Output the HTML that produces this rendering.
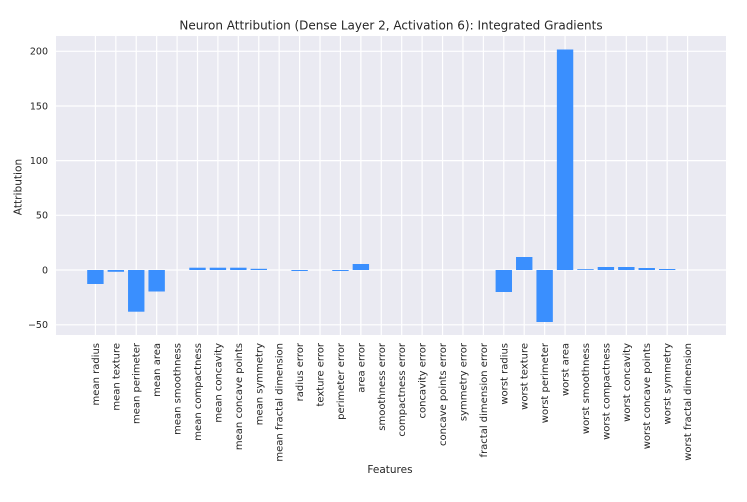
<!DOCTYPE html>
<html><head><meta charset="utf-8"><style>
html,body{margin:0;padding:0;background:#fff;}
svg{display:block;font-family:"DejaVu Sans","Liberation Sans",sans-serif;}
</style></head><body>
<svg width="747" height="502" viewBox="0 0 747 502" xmlns="http://www.w3.org/2000/svg">
<rect x="0" y="0" width="747" height="502" fill="#fff"/>
<rect x="56" y="36" width="670" height="299" fill="#eaeaf2"/>
<g stroke="#fff" stroke-width="1.2">
<line x1="56" x2="726" y1="51.3" y2="51.3"/>
<line x1="56" x2="726" y1="106" y2="106"/>
<line x1="56" x2="726" y1="160.6" y2="160.6"/>
<line x1="56" x2="726" y1="215.3" y2="215.3"/>
<line x1="56" x2="726" y1="270" y2="270"/>
<line x1="56" x2="726" y1="324.8" y2="324.8"/>
<line x1="95.4" x2="95.4" y1="36" y2="335"/>
<line x1="115.82" x2="115.82" y1="36" y2="335"/>
<line x1="136.24" x2="136.24" y1="36" y2="335"/>
<line x1="156.66" x2="156.66" y1="36" y2="335"/>
<line x1="177.08" x2="177.08" y1="36" y2="335"/>
<line x1="197.5" x2="197.5" y1="36" y2="335"/>
<line x1="217.92" x2="217.92" y1="36" y2="335"/>
<line x1="238.34" x2="238.34" y1="36" y2="335"/>
<line x1="258.76" x2="258.76" y1="36" y2="335"/>
<line x1="279.18" x2="279.18" y1="36" y2="335"/>
<line x1="299.6" x2="299.6" y1="36" y2="335"/>
<line x1="320.02" x2="320.02" y1="36" y2="335"/>
<line x1="340.44" x2="340.44" y1="36" y2="335"/>
<line x1="360.86" x2="360.86" y1="36" y2="335"/>
<line x1="381.28" x2="381.28" y1="36" y2="335"/>
<line x1="401.7" x2="401.7" y1="36" y2="335"/>
<line x1="422.12" x2="422.12" y1="36" y2="335"/>
<line x1="442.54" x2="442.54" y1="36" y2="335"/>
<line x1="462.96" x2="462.96" y1="36" y2="335"/>
<line x1="483.38" x2="483.38" y1="36" y2="335"/>
<line x1="503.8" x2="503.8" y1="36" y2="335"/>
<line x1="524.22" x2="524.22" y1="36" y2="335"/>
<line x1="544.64" x2="544.64" y1="36" y2="335"/>
<line x1="565.06" x2="565.06" y1="36" y2="335"/>
<line x1="585.48" x2="585.48" y1="36" y2="335"/>
<line x1="605.9" x2="605.9" y1="36" y2="335"/>
<line x1="626.32" x2="626.32" y1="36" y2="335"/>
<line x1="646.74" x2="646.74" y1="36" y2="335"/>
<line x1="667.16" x2="667.16" y1="36" y2="335"/>
<line x1="687.58" x2="687.58" y1="36" y2="335"/>
</g>
<g fill="#3a8ffe">
<rect x="87.2" y="270" width="16.4" height="14"/>
<rect x="107.62" y="270" width="16.4" height="1.8"/>
<rect x="128.04" y="270" width="16.4" height="41.7"/>
<rect x="148.46" y="270" width="16.4" height="21.5"/>
<rect x="189.3" y="267.7" width="16.4" height="2.3"/>
<rect x="209.72" y="267.7" width="16.4" height="2.3"/>
<rect x="230.14" y="267.7" width="16.4" height="2.3"/>
<rect x="250.56" y="268.8" width="16.4" height="1.2"/>
<rect x="291.4" y="270" width="16.4" height="1"/>
<rect x="332.24" y="270" width="16.4" height="1"/>
<rect x="352.66" y="264" width="16.4" height="6"/>
<rect x="495.6" y="270" width="16.4" height="22"/>
<rect x="516.02" y="257" width="16.4" height="13"/>
<rect x="536.44" y="270" width="16.4" height="52"/>
<rect x="556.86" y="49.5" width="16.4" height="220.5"/>
<rect x="577.28" y="269.2" width="16.4" height="0.8"/>
<rect x="597.7" y="267" width="16.4" height="3"/>
<rect x="618.12" y="267" width="16.4" height="3"/>
<rect x="638.54" y="268" width="16.4" height="2"/>
<rect x="658.96" y="269" width="16.4" height="1"/>
</g>
<g fill="#262626" font-size="9.5" text-anchor="end">
<text x="48" y="54.7">200</text>
<text x="48" y="109.4">150</text>
<text x="48" y="164">100</text>
<text x="48" y="218.7">50</text>
<text x="48" y="273.4">0</text>
<text x="48" y="328.2">−50</text>
</g>
<g fill="#262626" font-size="10" text-anchor="end">
<text transform="translate(98.9,343) rotate(-90)">mean radius</text>
<text transform="translate(119.32,343) rotate(-90)">mean texture</text>
<text transform="translate(139.74,343) rotate(-90)">mean perimeter</text>
<text transform="translate(160.16,343) rotate(-90)">mean area</text>
<text transform="translate(180.58,343) rotate(-90)">mean smoothness</text>
<text transform="translate(201,343) rotate(-90)">mean compactness</text>
<text transform="translate(221.42,343) rotate(-90)">mean concavity</text>
<text transform="translate(241.84,343) rotate(-90)">mean concave points</text>
<text transform="translate(262.26,343) rotate(-90)">mean symmetry</text>
<text transform="translate(282.68,343) rotate(-90)">mean fractal dimension</text>
<text transform="translate(303.1,343) rotate(-90)">radius error</text>
<text transform="translate(323.52,343) rotate(-90)">texture error</text>
<text transform="translate(343.94,343) rotate(-90)">perimeter error</text>
<text transform="translate(364.36,343) rotate(-90)">area error</text>
<text transform="translate(384.78,343) rotate(-90)">smoothness error</text>
<text transform="translate(405.2,343) rotate(-90)">compactness error</text>
<text transform="translate(425.62,343) rotate(-90)">concavity error</text>
<text transform="translate(446.04,343) rotate(-90)">concave points error</text>
<text transform="translate(466.46,343) rotate(-90)">symmetry error</text>
<text transform="translate(486.88,343) rotate(-90)">fractal dimension error</text>
<text transform="translate(507.3,343) rotate(-90)">worst radius</text>
<text transform="translate(527.72,343) rotate(-90)">worst texture</text>
<text transform="translate(548.14,343) rotate(-90)">worst perimeter</text>
<text transform="translate(568.56,343) rotate(-90)">worst area</text>
<text transform="translate(588.98,343) rotate(-90)">worst smoothness</text>
<text transform="translate(609.4,343) rotate(-90)">worst compactness</text>
<text transform="translate(629.82,343) rotate(-90)">worst concavity</text>
<text transform="translate(650.24,343) rotate(-90)">worst concave points</text>
<text transform="translate(670.66,343) rotate(-90)">worst symmetry</text>
<text transform="translate(691.08,343) rotate(-90)">worst fractal dimension</text>
</g>
<text x="391" y="29.5" font-size="12" fill="#262626" text-anchor="middle">Neuron Attribution (Dense Layer 2, Activation 6): Integrated Gradients</text>
<text x="390" y="473" font-size="10.5" fill="#262626" text-anchor="middle">Features</text>
<text transform="translate(21.5,187) rotate(-90)" font-size="10.6" fill="#262626" text-anchor="middle">Attribution</text>
</svg>
</body></html>
